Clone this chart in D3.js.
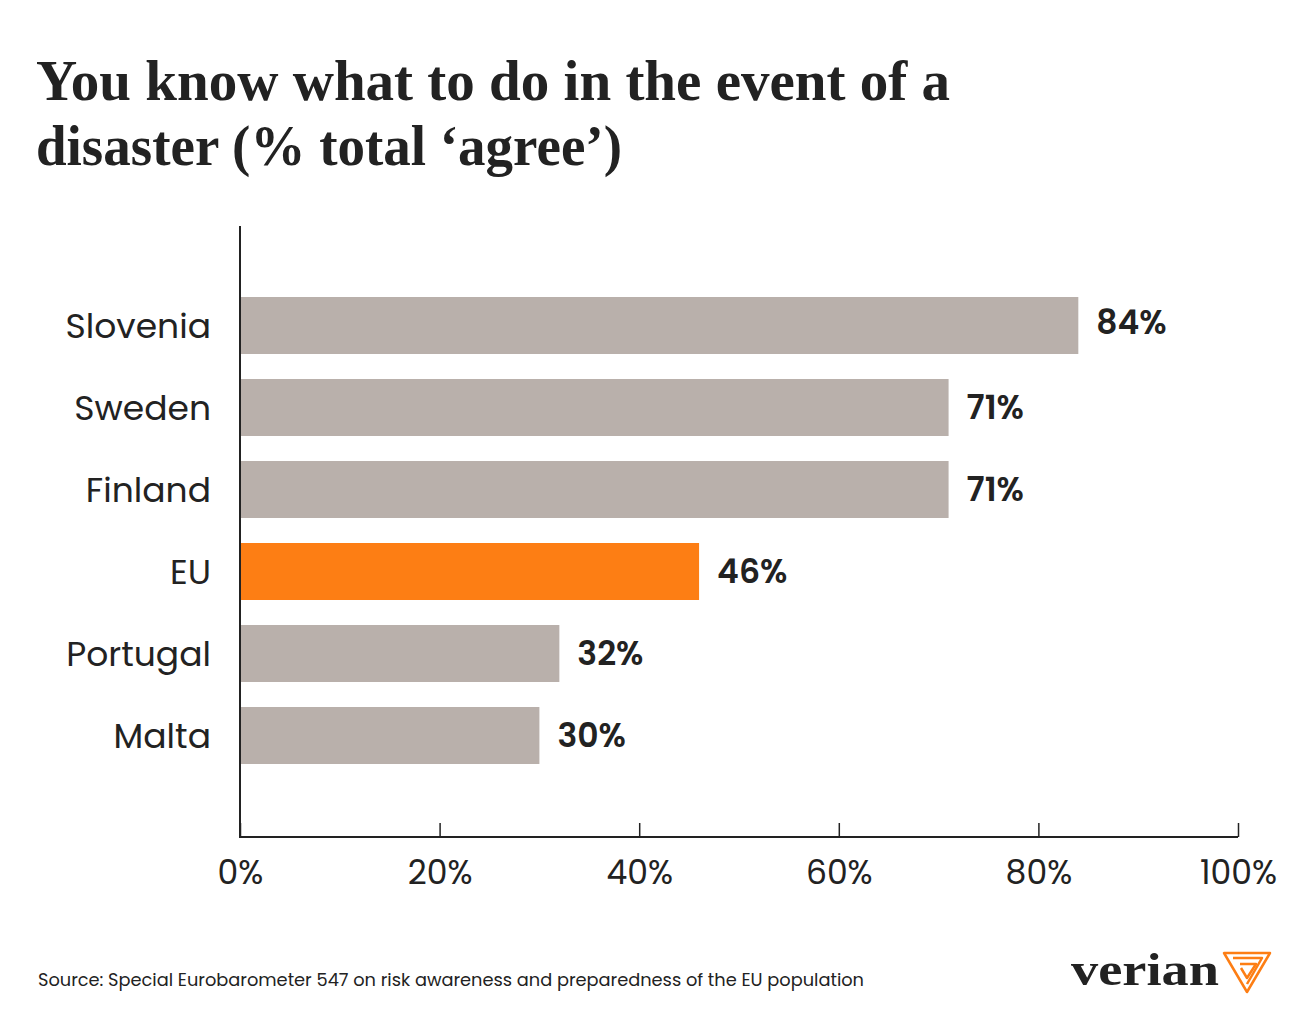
<!DOCTYPE html>
<html><head><meta charset="utf-8">
<script src="https://cdn.jsdelivr.net/npm/d3@7"></script>
<style>body{margin:0;background:#fff;} svg{display:block;}</style>
</head><body>
<script>
const categories = ["Slovenia","Sweden","Finland","EU","Portugal","Malta"];
const values = [84,71,71,46,32,30];
const highlight = ["EU"];
const tickValues = [0,20,40,60,80,100];
const titleLines = ["You know what to do in the event of a","disaster (% total \u2018agree\u2019)"];
const source = "Source: Special Eurobarometer 547 on risk awareness and preparedness of the EU population";

const W=1312,H=1026;
const svg=d3.select("body").append("svg").attr("width",W).attr("height",H);
svg.append("rect").attr("width",W).attr("height",H).attr("fill","#fff");

const sans="Poppins, 'Inter', 'Open Sans', sans-serif";
const serif="'Liberation Serif', 'DejaVu Serif', serif";

svg.selectAll("text.title").data(titleLines).enter().append("text")
  .attr("x",36).attr("y",(d,i)=>100+i*65)
  .attr("font-family",serif).attr("font-weight","bold").attr("font-size",58)
  .attr("fill","#222").attr("textLength",(d,i)=>i==0?914:586).attr("lengthAdjust","spacingAndGlyphs")
  .text(d=>d);

const x=d3.scaleLinear().domain([0,100]).range([240,1238]);
const y=d3.scaleBand().domain(categories).range([284.5,776.5]).paddingInner(0.305).paddingOuter(0.1525);

svg.selectAll("rect.bar").data(categories).enter().append("rect")
  .attr("x",x(0)).attr("y",d=>y(d)).attr("height",y.bandwidth())
  .attr("width",(d,i)=>x(values[i])-x(0))
  .attr("fill",d=>highlight.includes(d)?"#fd7e14":"#b9b0ab");

// y axis line
svg.append("line").attr("x1",240).attr("x2",240).attr("y1",226).attr("y2",838)
  .attr("stroke","#222").attr("stroke-width",2);

const xAxis=svg.append("g").attr("transform","translate(0,837)")
  .call(d3.axisBottom(x).tickValues(tickValues).tickSize(-14).tickFormat(d=>d+"%").tickPadding(30));
xAxis.select(".domain").attr("stroke","#222").attr("stroke-width",2).attr("d","M240,0H1238");
xAxis.selectAll(".tick line").attr("stroke","#222").attr("stroke-width",1.5);
xAxis.selectAll(".tick text").attr("font-family",sans).attr("font-size",33).attr("fill","#222").attr("dy","0.5em");

svg.selectAll("text.cat").data(categories).enter().append("text")
  .attr("x",211).attr("y",d=>y(d)+y.bandwidth()/2).attr("dy","0.35em")
  .attr("text-anchor","end").attr("font-family",sans).attr("font-size",34.5).attr("fill","#222")
  .text(d=>d);

svg.selectAll("text.val").data(categories).enter().append("text")
  .attr("x",(d,i)=>x(values[i])+18).attr("y",(d,i)=>y(d)+y.bandwidth()/2-(i==0?3:0)).attr("dy","0.35em")
  .attr("font-family",sans).attr("font-weight",600).attr("font-size",33).attr("fill","#222")
  .text((d,i)=>values[i]+"%");

svg.append("text").attr("x",38).attr("y",986).attr("font-family",sans).attr("font-size",18)
  .attr("fill","#222").attr("textLength",826).attr("lengthAdjust","spacingAndGlyphs").text(source);

// logo
svg.append("text").attr("x",1071).attr("y",985).attr("font-family",serif).attr("font-weight","bold")
  .attr("font-size",46).attr("fill","#222").attr("textLength",148).attr("lengthAdjust","spacingAndGlyphs").text("verian");
const lg=svg.append("g").attr("fill","none").attr("stroke","#fd7e14").attr("stroke-width",2.5).attr("stroke-linejoin","round");
lg.append("path").attr("d","M1224,953 L1270,953 L1247,992 Z");
lg.append("path").attr("d","M1233,958 L1262,958 L1247,984");
lg.append("path").attr("d","M1240,964 L1256,964 L1247,978 L1241,968");
</script>
</body></html>
